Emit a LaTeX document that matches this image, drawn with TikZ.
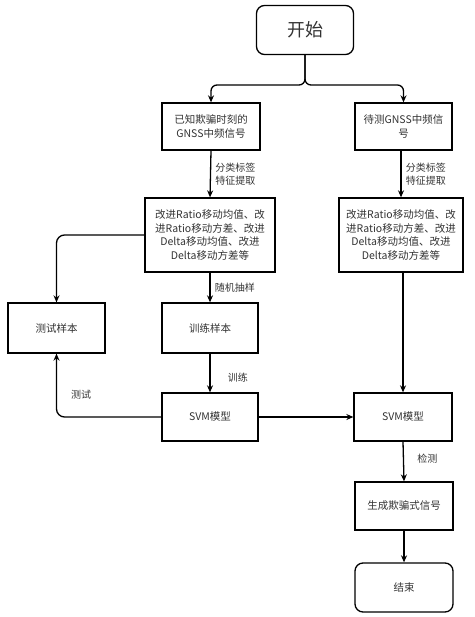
\documentclass[tikz,border=0pt]{standalone}
\usepackage{fontspec}
\setmainfont{Noto Sans CJK SC}
\usetikzlibrary{arrows.meta}
\begin{document}
\begin{tikzpicture}[x=1pt,y=-1pt,
  box/.style={draw, line width=1.3pt, align=center, inner sep=2pt, font=\fontsize{10.5}{13.5}\selectfont, text=black!80},
  rbox/.style={box, rounded corners=8pt},
  arr/.style={line width=1.3pt, -{Stealth[length=7pt,width=6pt]}},
  lbl/.style={font=\fontsize{10}{13}\selectfont, text=black!80, align=left}]
\useasboundingbox (0,0) rectangle (474,617);
\node[rbox, minimum width=97pt, minimum height=49pt, font=\fontsize{18}{20}\selectfont] (start) at (305,30) {开始};
\node[box, minimum width=98pt, minimum height=47pt] (k1) at (211,126.5) {已知欺骗时刻的\\GNSS中频信号};
\node[box, minimum width=97pt, minimum height=47pt] (k2) at (403.5,126.5) {待测GNSS中频信\\号};
\node[box, minimum width=130pt, minimum height=74pt] (f1) at (210,235) {改进Ratio移动均值、改\\进Ratio移动方差、改进\\Delta移动均值、改进\\Delta移动方差等};
\node[box, minimum width=124pt, minimum height=74pt] (f2) at (401,235) {改进Ratio移动均值、改\\进Ratio移动方差、改进\\Delta移动均值、改进\\Delta移动方差等};
\node[box, minimum width=97pt, minimum height=50pt] (test) at (56.5,328) {测试样本};
\node[box, minimum width=96pt, minimum height=50pt] (train) at (210,328) {训练样本};
\node[box, minimum width=96pt, minimum height=48pt] (svm1) at (210,417) {SVM模型};
\node[box, minimum width=98pt, minimum height=48pt] (svm2) at (403,417) {SVM模型};
\node[box, minimum width=98pt, minimum height=48pt] (gen) at (404,506) {生成欺骗式信号};
\node[rbox, minimum width=98pt, minimum height=49pt] (end) at (404,587.5) {结束};
\coordinate (split) at (305,85);
\draw[arr, rounded corners=6pt] (start.south) -- (split) -| (k1.north);
\draw[arr, rounded corners=6pt] (start.south) -- (split) -| (k2.north);
\draw[arr] (k1.south) -- node[lbl, right, xshift=1pt] {分类标签\\特征提取} (f1.north);
\draw[arr] (k2.south -| f2.north) -- node[lbl, right, xshift=1pt] {分类标签\\特征提取} (f2.north);
\draw[arr, rounded corners=8pt] (f1.west) -| (test.north);
\draw[arr] (f1.south) -- node[lbl, right, xshift=1pt] {随机抽样} (train.north);
\draw[arr] (train.south) -- node[lbl, right, xshift=14pt, yshift=-5pt] {训练} (svm1.north);
\draw[arr, rounded corners=8pt] (svm1.west) -| (test.south);
\node[lbl] (tlabel) at (81,395) {测试};
\draw[arr] (svm1.east) -- (svm2.west);
\draw[arr] (f2.south -| svm2.north) -- (svm2.north);
\draw[arr] (svm2.south) -- node[lbl, right, xshift=10pt, yshift=3pt] {检测} (gen.north);
\draw[arr] (gen.south) -- (end.north);
\end{tikzpicture}
\end{document}
